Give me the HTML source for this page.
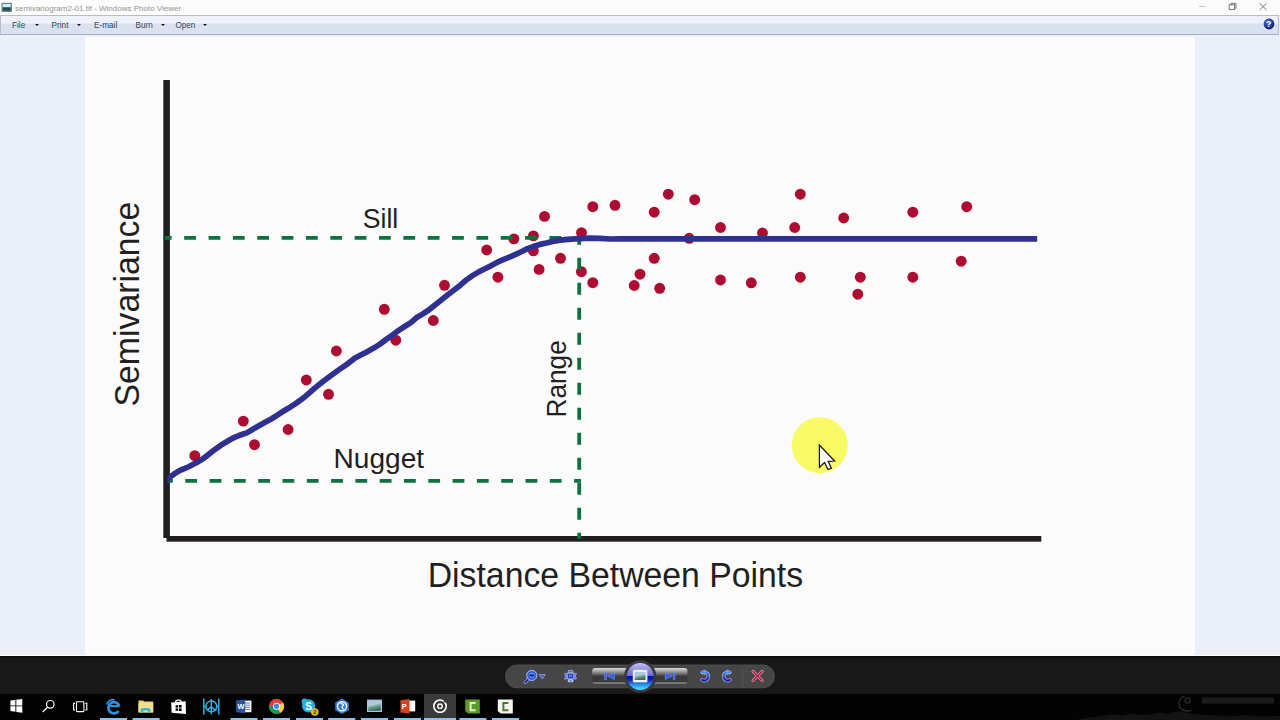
<!DOCTYPE html>
<html><head><meta charset="utf-8"><title>semivariogram2-01.tif - Windows Photo Viewer</title>
<style>
*{margin:0;padding:0;box-sizing:border-box}
html,body{width:1280px;height:720px;overflow:hidden;background:#ebeff8;font-family:"Liberation Sans",sans-serif}
.abs{position:absolute}
#title{left:0;top:0;width:1280px;height:15px;background:#fcfcfc}
#title .t{left:15px;top:3.9px;font-size:8.0px;color:#939393;white-space:nowrap}
#menu{left:0;top:15px;width:1279px;height:20px;border-top:1px solid #b9bcc6;border-bottom:1px solid #a9afbd;border-left:1px solid #b9bcc6;border-right:1px solid #b9bcc6;
 background:linear-gradient(#eef1fa 0px,#eef2fb 7px,#d9e1f1 8px,#dae2f0 18px)}
#menu span{position:absolute;top:5.3px;font-size:8.2px;color:#394152;white-space:nowrap}
#menu i{position:absolute;top:7.6px;width:0;height:0;border-left:2.2px solid transparent;border-right:2.2px solid transparent;border-top:2.8px solid #111}
#side{left:0;top:35px;width:1280px;height:620px;background:#ebeff8}
#img{left:85px;top:35px;width:1110px;height:620px;background:#fbfbfb}
#bar{left:0;top:655px;width:1280px;height:39px;background:#181818;border-top:1px solid #fff}
#bar2{left:0;top:656px;width:1280px;height:2px;background:#0e0e0e}
#task{left:0;top:694px;width:1280px;height:26px;background:#030303}
</style></head>
<body>
<div id="side" class="abs"></div>
<div id="img" class="abs"></div>
<div class="abs" style="left:0;top:35px;width:1280px;height:2px;background:linear-gradient(#e6ecf6,#f2f5fb)"></div>
<div id="title" class="abs"><div class="abs t">semivariogram2-01.tif - Windows Photo Viewer</div>
<svg class="abs" style="left:0;top:0" width="1280" height="15" viewBox="0 0 1280 15">
 <rect x="1.4" y="2.8" width="10.6" height="9.2" rx="0.8" fill="#5a8aa8"/>
 <rect x="2.6" y="4" width="8.2" height="6.8" fill="#d8e8ee"/>
 <rect x="2.6" y="7.2" width="8.2" height="3.6" fill="#2a4a48"/>
 <rect x="1198.8" y="6" width="7.4" height="1" fill="#c8c8c8"/>
 <g fill="none" stroke="#6a6a6a" stroke-width="0.9">
  <rect x="1229.2" y="4.8" width="5.4" height="4.8"/><path d="M1230.8,4.8 L1230.8,3.4 L1236,3.4 L1236,8.2 L1234.6,8.2"/>
  <path d="M1259.6,3.2 L1266.6,10 M1266.6,3.2 L1259.6,10"/>
 </g>
</svg></div>
<div id="menu" class="abs">
 <span style="left:11px">File</span><i style="left:34px"></i>
 <span style="left:50.6px">Print</span><i style="left:76px"></i>
 <span style="left:93px">E-mail</span>
 <span style="left:134.6px">Burn</span><i style="left:160px"></i>
 <span style="left:174.4px">Open</span><i style="left:202px"></i>
 <svg style="position:absolute;left:1261px;top:1px" width="14" height="14" viewBox="0 0 14 14">
  <defs><radialGradient id="hq" cx="0.4" cy="0.35" r="0.7"><stop offset="0" stop-color="#5a78d8"/><stop offset="0.7" stop-color="#1c2c90"/><stop offset="1" stop-color="#101a60"/></radialGradient></defs>
  <circle cx="7" cy="7" r="5.4" fill="url(#hq)"/>
  <text x="4.3" y="10.2" font-family="Liberation Sans" font-weight="bold" font-size="8.4" fill="#fff">?</text>
 </svg>
</div>
<div id="bar" class="abs"></div>
<div id="bar2" class="abs"></div>
<div id="task" class="abs"></div>
<svg class="abs" style="left:0;top:655px" width="1280" height="65" viewBox="0 655 1280 65">
 <defs>
  <linearGradient id="btn" x1="0" y1="0" x2="0" y2="1">
   <stop offset="0" stop-color="#d8d8d8"/><stop offset="0.18" stop-color="#a8a8a8"/><stop offset="0.42" stop-color="#5a5a5a"/><stop offset="0.5" stop-color="#3a3a3a"/><stop offset="0.86" stop-color="#3c3c3c"/><stop offset="0.93" stop-color="#9a9a9a"/><stop offset="1" stop-color="#555"/>
  </linearGradient>
  <linearGradient id="ball" x1="0" y1="0" x2="0" y2="1">
   <stop offset="0" stop-color="#c4c4f2"/><stop offset="0.25" stop-color="#8c8ce6"/><stop offset="0.47" stop-color="#6a6ad8"/><stop offset="0.5" stop-color="#0a0ea8"/><stop offset="0.62" stop-color="#1020b8"/><stop offset="0.82" stop-color="#2a98ec"/><stop offset="1" stop-color="#58e4fc"/>
  </linearGradient>
  <linearGradient id="pic" x1="0" y1="0" x2="0.3" y2="1">
   <stop offset="0" stop-color="#a8c4dc"/><stop offset="0.45" stop-color="#b4ccd8"/><stop offset="0.7" stop-color="#6a9a8a"/><stop offset="1" stop-color="#3a6a5a"/>
  </linearGradient>
 </defs>
 <!-- pill -->
 <rect x="505.5" y="665" width="269" height="22.8" rx="11.4" fill="#464646" stroke="#555" stroke-width="0.8"/>
 <!-- zoom icon -->
 <line x1="528.6" y1="679" x2="525.2" y2="682.4" stroke="#9aa0e8" stroke-width="3.2" stroke-linecap="round"/>
 <line x1="528.6" y1="679" x2="525.2" y2="682.4" stroke="#22228a" stroke-width="1.8" stroke-linecap="round"/>
 <circle cx="531.8" cy="675.4" r="5.1" fill="#3c6ee0" stroke="#a8b8f8" stroke-width="1"/>
 <circle cx="531.8" cy="675.4" r="3.6" fill="#4a88f0" stroke="#2a48c8" stroke-width="0.8"/>
 <ellipse cx="531.8" cy="675.6" rx="2.4" ry="1" fill="#10208a"/>
 <path d="M539.3,674.6 L545.3,674.6 L542.3,678.8 Z" fill="#3a5ad0" stroke="#b0b8f0" stroke-width="0.7" stroke-linejoin="round"/>
 <!-- actual size -->
 <g stroke="#b8c0f8" stroke-width="0.7" stroke-linejoin="round">
  <path d="M564.6,673.4 L566.8,673.4 L566.8,679 L564.6,679 L565.6,676.2 Z" fill="#3050d0"/>
  <path d="M576.4,673.4 L574.2,673.4 L574.2,679 L576.4,679 L575.4,676.2 Z" fill="#3050d0"/>
  <rect x="567.4" y="673.4" width="6.2" height="5.4" fill="#1a3ab8"/>
  <path d="M568.6,670.4 L572.6,670.4 L573.4,672.6 L567.8,672.6 Z" fill="#4a70e0"/>
  <path d="M568.2,679.6 L573,679.6 L573,681.8 L568.2,681.8 Z" fill="#eef0ff"/>
 </g>
 <rect x="569" y="674.8" width="3" height="2.4" fill="#5a7ae8"/>
 <rect x="569.4" y="680.4" width="2.4" height="0.8" fill="#10208a"/>
 <!-- prev / next buttons -->
 <rect x="592.2" y="668.1" width="36" height="16" rx="3" fill="url(#btn)"/>
 <rect x="652" y="668.1" width="35.4" height="16" rx="3" fill="url(#btn)"/>
 <g fill="#3a60e8" stroke="#7c98ff" stroke-width="0.5">
  <rect x="604.6" y="672.4" width="1.8" height="7.2"/><path d="M614.4,672.4 L614.4,679.6 L607.4,676 Z"/>
  <rect x="673.2" y="672.4" width="1.8" height="7.2"/><path d="M665.4,672.4 L665.4,679.6 L672.4,676 Z"/>
 </g>
 <!-- center ball -->
 <circle cx="640.2" cy="676.5" r="16.2" fill="#3a3a3a"/>
 <circle cx="640.2" cy="676.5" r="13.4" fill="url(#ball)"/>
 <rect x="633" y="669.8" width="14.2" height="12.4" rx="0.8" fill="#eef0f4" stroke="#c0c8d0" stroke-width="0.5"/>
 <rect x="634.7" y="672" width="10.8" height="8" fill="url(#pic)"/>
 <!-- rotate icons -->
 <defs><linearGradient id="rot" x1="0" y1="0" x2="0" y2="1"><stop offset="0" stop-color="#3a8ef0"/><stop offset="1" stop-color="#1a1a98"/></linearGradient></defs>
 <g fill="none" stroke-linecap="round">
  <path d="M702.4,672.6 A4.2,4.2 0 1 1 702,680" stroke="#a8a8f0" stroke-width="3.6"/>
  <path d="M702.4,672.6 A4.2,4.2 0 1 1 702,680" stroke="url(#rot)" stroke-width="2.2"/>
  <path d="M729.6,672.6 A4.2,4.2 0 1 0 730,680" stroke="#a8a8f0" stroke-width="3.6"/>
  <path d="M729.6,672.6 A4.2,4.2 0 1 0 730,680" stroke="url(#rot)" stroke-width="2.2"/>
 </g>
 <path d="M700.6,672.6 L704.4,669.8 L705,674.6 Z" fill="#3a8ef0" stroke="#a8b8f0" stroke-width="0.5"/>
 <path d="M731.4,672.6 L727.6,669.8 L727,674.6 Z" fill="#3a8ef0" stroke="#a8b8f0" stroke-width="0.5"/>
 <line x1="742.8" y1="669.3" x2="742.8" y2="686.5" stroke="#5a5a5a" stroke-width="0.9"/>
 <!-- close X -->
 <g stroke-linecap="round">
  <g stroke="#e0a0b0" stroke-width="2.8"><line x1="753" y1="671.2" x2="762.2" y2="680.4"/><line x1="762.2" y1="671.2" x2="753" y2="680.4"/></g>
  <g stroke="#b81040" stroke-width="1.4"><line x1="753" y1="671.2" x2="762.2" y2="680.4"/><line x1="762.2" y1="671.2" x2="753" y2="680.4"/></g>
 </g>
 <!-- taskbar -->
 <rect x="424" y="694" width="32" height="26" fill="#3a3a3a"/>
 <g fill="#8ec0ec">
  <rect x="100" y="718" width="27" height="2"/><rect x="132.6" y="718" width="27" height="2"/>
  <rect x="230.5" y="718" width="27" height="2"/><rect x="263" y="718" width="27" height="2"/>
  <rect x="296" y="718" width="27" height="2"/><rect x="328.2" y="718" width="27" height="2"/>
  <rect x="361" y="718" width="27" height="2"/><rect x="394" y="718" width="27" height="2"/>
  <rect x="424" y="718" width="32" height="2"/><rect x="459.4" y="718" width="27" height="2"/>
  <rect x="492" y="718" width="27" height="2"/>
 </g>
 <!-- start -->
 <g fill="#fff">
  <path d="M10.4,700.6 L15.4,699.9 L15.4,705.4 L10.4,705.4 Z"/><path d="M16.3,699.8 L22.3,699 L22.3,705.4 L16.3,705.4 Z"/>
  <path d="M10.4,706.3 L15.4,706.3 L15.4,711.8 L10.4,711.1 Z"/><path d="M16.3,706.3 L22.3,706.3 L22.3,712.7 L16.3,711.9 Z"/>
 </g>
 <!-- search -->
 <g fill="none" stroke="#fff" stroke-width="1.2">
  <circle cx="50.3" cy="704.3" r="3.8"/><line x1="47.5" y1="707.2" x2="42.6" y2="712"/>
 </g>
 <!-- task view -->
 <g fill="none" stroke="#fff" stroke-width="1.1">
  <rect x="76.5" y="701.8" width="7.4" height="9.8" rx="0.6"/>
  <path d="M75,703.4 L73.6,703.4 L73.6,710 L75,710"/><path d="M85.4,703.4 L86.8,703.4 L86.8,710 L85.4,710"/>
 </g>
 <!-- edge -->
 <path d="M118.6,710.9 A5.6,5.6 0 1 1 119.2,706" fill="none" stroke="#2f8fe0" stroke-width="2.7"/>
 <line x1="109.2" y1="706.1" x2="119.6" y2="706.1" stroke="#2f8fe0" stroke-width="2.2"/>
 <path d="M106.8,704.6 C107.8,700.8 111.4,699.2 114.6,699.8" fill="none" stroke="#2f8fe0" stroke-width="1.8"/>
 <!-- explorer -->
 <path d="M138.5,700.4 L143,700.4 L144.2,701.6 L153.2,701.6 L153.2,712.4 L138.5,712.4 Z" fill="#f4d67a"/>
 <rect x="138.5" y="703.4" width="14.7" height="9" fill="#f8e08a"/>
 <path d="M140.8,712.6 L140.8,709.4 C140.8,707.6 150.4,707.6 150.4,709.4 L150.4,712.6 L148,712.6 L148,710.4 L143.2,710.4 L143.2,712.6 Z" fill="#2fb8e0"/>
 <!-- store -->
 <path d="M171.2,702.6 L185.6,701.2 L186,714 L171.6,712.8 Z" fill="#fff"/>
 <path d="M175.5,702.4 C175.5,699.6 181,699.2 181.2,702" fill="none" stroke="#fff" stroke-width="1.2"/>
 <g fill="#000"><rect x="175.6" y="705.2" width="2.6" height="2.4"/><rect x="179" y="705" width="2.6" height="2.6"/><rect x="175.6" y="708.4" width="2.6" height="2.4"/><rect x="179" y="708.4" width="2.6" height="2.6"/></g>
 <!-- peace -->
 <g fill="none" stroke="#3aaee0" stroke-width="1.5">
  <line x1="203.8" y1="698.6" x2="203.8" y2="714.4"/><line x1="218.8" y1="698.6" x2="218.8" y2="714.4"/>
  <circle cx="211.3" cy="706.4" r="5.4"/><line x1="211.3" y1="699" x2="211.3" y2="714.4"/>
  <line x1="211.3" y1="706.8" x2="207.3" y2="710.4"/><line x1="211.3" y1="706.8" x2="215.3" y2="710.4"/>
  <line x1="204" y1="706.4" x2="205.8" y2="706.4"/><line x1="216.8" y1="706.4" x2="218.6" y2="706.4"/>
 </g>
 <!-- word -->
 <rect x="242.6" y="700.6" width="8.8" height="11.6" fill="#fff"/>
 <g stroke="#2b579a" stroke-width="0.8"><line x1="245" y1="703" x2="250" y2="703"/><line x1="245" y1="705.2" x2="250" y2="705.2"/><line x1="245" y1="707.4" x2="250" y2="707.4"/><line x1="245" y1="709.6" x2="250" y2="709.6"/></g>
 <path d="M236.1,700.4 L245.2,699.4 L245.2,713.2 L236.1,712.2 Z" fill="#2b579a"/>
 <text x="237.6" y="709.4" font-family="Liberation Sans" font-weight="bold" font-size="7.4" fill="#fff">W</text>
 <!-- chrome -->
 <circle cx="276.5" cy="706.3" r="7.6" fill="#db4437"/>
 <path d="M276.5,706.3 L269.9,710.1 A7.6,7.6 0 0 0 280.3,712.9 Z" fill="#0f9d58"/>
 <path d="M276.5,706.3 L283.1,702.5 A7.6,7.6 0 0 1 280.3,712.9 Z" fill="#ffcd40"/>
 <path d="M276.5,706.3 L269.9,710.1 A7.6,7.6 0 0 1 268.9,706.3 Z" fill="#0f9d58"/>
 <circle cx="276.5" cy="706.3" r="3.5" fill="#fff"/><circle cx="276.5" cy="706.3" r="2.7" fill="#4285f4"/>
 <!-- skype -->
 <circle cx="308.6" cy="705.8" r="6.6" fill="#2aaee8"/>
 <rect x="301.6" y="698.6" width="6" height="6" rx="3" fill="#2aaee8"/>
 <rect x="309.6" y="707" width="6" height="6" rx="3" fill="#2aaee8"/>
 <text x="305.3" y="709.6" font-family="Liberation Sans" font-weight="bold" font-size="10" fill="#fff">S</text>
 <circle cx="314.8" cy="712" r="3.8" fill="#e8b830"/>
 <text x="313.2" y="714.2" font-family="Liberation Sans" font-weight="bold" font-size="5.6" fill="#333">2</text>
 <!-- globe hex -->
 <path d="M342,698.6 L348.8,702.4 L348.8,710.2 L342,714 L335.2,710.2 L335.2,702.4 Z" fill="#3a78c8"/>
 <circle cx="342" cy="706.3" r="4.6" fill="none" stroke="#fff" stroke-width="1.4"/>
 <path d="M340.2,703.2 L343.6,704.4 L342,707.4 L343.4,709.6" fill="none" stroke="#fff" stroke-width="1.2"/>
 <!-- photos -->
 <rect x="367" y="699.6" width="15" height="12.4" fill="#9cc8e8"/>
 <rect x="368.2" y="700.8" width="12.6" height="10" fill="url(#pic)"/>
 <!-- powerpoint -->
 <rect x="407.2" y="700.6" width="8" height="10.8" fill="#fff"/>
 <path d="M400.4,700.2 L409.6,699 L409.6,713.4 L400.4,712.4 Z" fill="#d04525"/>
 <text x="401.8" y="709.4" font-family="Liberation Sans" font-weight="bold" font-size="7.4" fill="#fff">P</text>
 <!-- groove -->
 <circle cx="440" cy="706.2" r="6.2" fill="none" stroke="#fff" stroke-width="1.6"/>
 <circle cx="440" cy="706.2" r="2.2" fill="none" stroke="#fff" stroke-width="1.4"/>
 <rect x="443.8" y="699" width="3" height="3.4" fill="#3a3a3a"/>
 <!-- camtasia green -->
 <path d="M465.2,699.6 L479.8,699.6 L479.8,713.4 L468.2,713.4 L465.2,711 Z" fill="#5c9a2c"/>
 <path d="M475.6,703 L470.6,703 L470.6,710.2 L475.6,710.2" fill="none" stroke="#e0f0c8" stroke-width="2"/>
 <!-- watermark / bottom decoration -->
 <path d="M1075,720 L1090,717.5 L1102,716 L1112,714.2 L1122,715.6 L1132,713.6 L1140,715 L1150,714.4 L1160,712.4 L1168,714 L1178,711.6 L1190,713.4 L1200,714.8 L1215,715.4 L1230,716.2 L1245,715.2 L1260,716.6 L1280,716 L1280,720 Z" fill="#131316"/>
 <g fill="none" stroke="#262628" stroke-width="1.6">
  <path d="M1184.6,696.2 C1178.8,697.4 1177.6,705 1181,708.6 C1183.4,711.2 1189.4,711.6 1191.6,709.8"/>
  <circle cx="1187.6" cy="700.4" r="2.6"/>
 </g>
 <rect x="1202" y="697.6" width="72" height="5.8" rx="1.4" fill="#1c1c1e"/>
 <!-- camtasia white -->
 <path d="M497.8,699.6 L512.8,699.6 L512.8,713.6 L500.8,713.6 L497.8,711.2 Z" fill="#f4f4f0"/>
 <path d="M508.4,703 L503.4,703 L503.4,710.2 L508.4,710.2" fill="none" stroke="#4a7a22" stroke-width="2"/>
</svg>
<svg class="abs" style="left:0;top:0" width="1280" height="720" viewBox="0 0 1280 720">
 <g fill="#ae0d31">
  <circle cx="194.8" cy="455.7" r="5.45"/><circle cx="243.3" cy="421.1" r="5.45"/><circle cx="254.5" cy="444.7" r="5.45"/>
  <circle cx="288.1" cy="429.5" r="5.45"/><circle cx="306.3" cy="380" r="5.45"/><circle cx="328.5" cy="394.3" r="5.45"/>
  <circle cx="336.4" cy="351" r="5.45"/><circle cx="384.3" cy="309.3" r="5.45"/><circle cx="395.8" cy="340.2" r="5.45"/>
  <circle cx="433.3" cy="320.5" r="5.45"/><circle cx="444.5" cy="285.3" r="5.45"/><circle cx="486.7" cy="250" r="5.45"/>
  <circle cx="497.9" cy="277.2" r="5.45"/><circle cx="513.9" cy="238.9" r="5.45"/><circle cx="533.4" cy="235.9" r="5.45"/>
  <circle cx="533.4" cy="250.8" r="5.45"/><circle cx="539.1" cy="269.4" r="5.45"/><circle cx="544.5" cy="216.4" r="5.45"/>
  <circle cx="560.5" cy="258.3" r="5.45"/><circle cx="581.5" cy="232.7" r="5.45"/><circle cx="581.4" cy="271.7" r="5.45"/>
  <circle cx="592.8" cy="206.7" r="5.45"/><circle cx="592.8" cy="282.7" r="5.45"/><circle cx="615" cy="205.3" r="5.45"/>
  <circle cx="654.2" cy="212.2" r="5.45"/><circle cx="668.3" cy="194.2" r="5.45"/><circle cx="694.7" cy="199.7" r="5.45"/>
  <circle cx="720.5" cy="227.5" r="5.45"/><circle cx="689.2" cy="238.3" r="5.45"/><circle cx="654.2" cy="258.3" r="5.45"/>
  <circle cx="640" cy="274.2" r="5.45"/><circle cx="634.2" cy="285.5" r="5.45"/><circle cx="659.7" cy="288.3" r="5.45"/>
  <circle cx="720.5" cy="280" r="5.45"/><circle cx="751.3" cy="282.8" r="5.45"/><circle cx="762.5" cy="233" r="5.45"/>
  <circle cx="794.7" cy="227.5" r="5.45"/><circle cx="800.3" cy="194.2" r="5.45"/><circle cx="800.3" cy="277.2" r="5.45"/>
  <circle cx="843.7" cy="218" r="5.45"/><circle cx="860.3" cy="277.2" r="5.45"/><circle cx="857.8" cy="294.2" r="5.45"/>
  <circle cx="912.8" cy="212.2" r="5.45"/><circle cx="966.7" cy="206.7" r="5.45"/><circle cx="961.2" cy="261.2" r="5.45"/>
  <circle cx="912.8" cy="277.2" r="5.45"/>
 </g>
 <!-- axes -->
 <rect x="163.3" y="80" width="6.6" height="458" fill="#211f22"/>
 <rect x="166.5" y="536" width="874.8" height="5.7" fill="#231f20"/>
 <!-- dashed -->
 <g stroke="#0e7240" stroke-width="3.8" fill="none">
  <line x1="165" y1="237.95" x2="581" y2="237.95" stroke-dasharray="11.8 12.55" stroke-dashoffset="5.15"/>
  <line x1="168" y1="480.9" x2="581" y2="480.9" stroke-dasharray="11.8 12.5" stroke-dashoffset="7"/>
  <line x1="579.2" y1="238" x2="579.2" y2="538.7" stroke-dasharray="12 13" stroke-dashoffset="5.2"/>
 </g>
 <!-- curve -->
 <clipPath id="cc"><rect x="167.3" y="0" width="1000" height="720"/></clipPath>
 <polyline clip-path="url(#cc)" fill="none" stroke="#2e3192" stroke-width="5.7" stroke-linecap="butt" stroke-linejoin="round"
  points="163,483.6 167.3,479.1 170,477 172.5,475.2 175,473.4 177.5,471.8 180.8,470 185,468.4 189.2,466.5 193.3,464.2 197.5,462.1 201.7,459.6 205.8,456.7 210,453.3 214.2,450 218.3,447.1 222.5,444.2 226.7,441.7 230.8,439.2 235,437.1 238.3,435.8 242.5,434.3 246.7,432.9 250.8,430.5 255,427.9 263.3,423.3 271.7,418.75 280,413.3 288.3,408.3 296.7,402.9 305,396.7 310.8,391.7 315,387.9 323.3,381.25 331.7,375 340,369 348.3,363.3 355,358.1 361.25,354.7 367.5,351.6 373.75,348.1 380,344.1 386.25,339.4 392.5,335 398.75,330.3 405,326.25 411.25,322.3 416.25,317.8 422.5,314.1 428.75,310 435,305 441.25,300 447.5,295 453.75,290.3 460,285.4 466.25,280 472.5,275.6 478.75,271.9 485,268.75 491.25,265.6 497.5,262.2 503.75,259.4 510,256.9 516.25,254.1 521.25,251.7 527.5,248.6 533.75,246.3 540,244.4 546.25,243 552.5,241.4 558.75,240.4 565,239.7 571.25,239.1 580,238.6 590,238.1 600,238.4 610,239 620,238.9 1037.2,238.8"/>
 <!-- labels -->
 <g fill="#231f20" font-family="Liberation Sans" >
  <text transform="translate(362.7,227.8) scale(0.987,1)" font-size="27">Sill</text>
  <text transform="translate(333.6,467.7) scale(1.04,1)" font-size="27">Nugget</text>
  <text transform="translate(427.7,587.2) scale(0.9654,1)" font-size="35">Distance Between Points</text>
  <text transform="translate(138.8,406.5) rotate(-90) scale(0.966,1)" font-size="35">Semivariance</text>
  <text transform="translate(566,417.5) rotate(-90) scale(0.972,1)" font-size="27">Range</text>
 </g>
 <!-- cursor highlight -->
 <circle cx="819.8" cy="445.2" r="28" fill="#f8fa66"/>
 <path d="M819.4,445 L819.4,467.3 L824.6,462.6 L828,469.6 L831.4,468.2 L828.1,461.3 L834.6,461 Z" fill="#fff" stroke="#111" stroke-width="1.2" stroke-linejoin="miter"/>
</svg>
</body></html>
